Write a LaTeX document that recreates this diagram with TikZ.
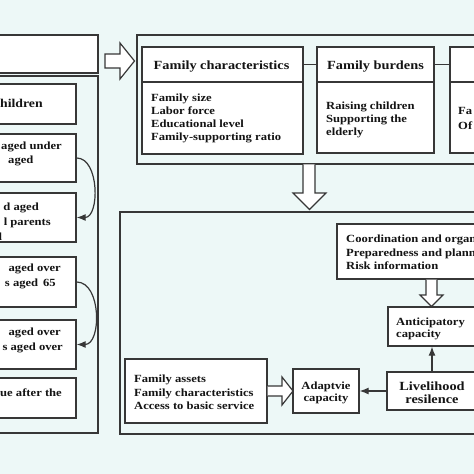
\documentclass[tikz,border=0pt]{standalone}
\usepackage{fontspec}
\setmainfont{Liberation Serif}[FakeStretch=1.15]
\usetikzlibrary{arrows.meta}
\definecolor{bgc}{RGB}{237,248,247}
\definecolor{linec}{RGB}{55,55,55}
\definecolor{txtc}{RGB}{20,20,20}
\begin{document}
\begin{tikzpicture}[x=1bp,y=-1bp,
  box/.style={draw=linec, fill=white, line width=1.3bp, inner sep=0pt},
  frame/.style={draw=linec, line width=1.3bp, inner sep=0pt},
  txt/.style={inner sep=0pt, text=txtc, font=\fontsize{11}{13}\selectfont\bfseries},
  ttl/.style={inner sep=0pt, text=txtc, font=\fontsize{12.5}{14}\selectfont\bfseries},
  blockarrow/.style={draw=linec, fill=white, line width=1.2bp, line join=miter},
  conn/.style={draw=linec, line width=1.2bp},
  tip/.style={-{Latex[length=9bp,width=7bp]}}]
\useasboundingbox (0,0) rectangle (474,474);
\clip (0,0) rectangle (474,474);
\fill[bgc] (0,0) rectangle (474,474);

% left column
\node[box, minimum width=103bp, minimum height=38bp] (lefttop) at (46.5,54) {};
\node[frame, minimum width=103bp, minimum height=357bp] (leftcont) at (46.5,254.5) {};
\node[box, minimum width=81bp, minimum height=40bp] (b1) at (35.5,104) {};
\node[box, minimum width=81bp, minimum height=48bp] (b2) at (35.5,158) {};
\node[box, minimum width=81bp, minimum height=49bp] (b3) at (35.5,217.5) {};
\node[box, minimum width=81bp, minimum height=50bp] (b4) at (35.5,282) {};
\node[box, minimum width=81bp, minimum height=49bp] (b5) at (35.5,344.5) {};
\node[box, minimum width=81bp, minimum height=40bp] (b6) at (35.5,398) {};

\node[ttl, font=\fontsize{12}{14}\selectfont\bfseries, anchor=base west] (t1) at (0,108) {hildren};
\node[txt, anchor=base east] (t2a) at (62,149.5) {aged under};
\node[txt, anchor=base west] (t2b) at (8,163.5) {aged};
\node[txt, anchor=base east] (t3a) at (39,210.5) {d aged};
\node[txt, anchor=base east] (t3b) at (51,225.5) {l parents};
\node[txt, anchor=base west] (t3c) at (-1.5,240.5) {l};
\node[txt, anchor=base east] (t4a) at (61,271.5) {aged over};
\node[txt, anchor=base east] (t4b) at (56,286.5) {s aged\, 65};
\node[txt, anchor=base east] (t5a) at (61,335.5) {aged over};
\node[txt, anchor=base east] (t5b) at (63,350.5) {s aged over};
\node[txt, anchor=base east] (t6) at (62,396.5) {ue after the};

\draw[conn, tip] (b2.east) .. controls +(23,0) and +(23,0) .. (b3.east);
\draw[conn, tip] (b4.east) .. controls +(25,0) and +(25,0) .. (b5.east);

% right block arrow
\draw[blockarrow] (105,54) -- (120,54) -- (120,43) -- (134.5,61) -- (120,79) -- (120,68) -- (105,68) -- cycle;

% top right container
\node[frame, minimum width=353bp, minimum height=129bp] (topcont) at (313.5,99.5) {};
\node[box, minimum width=161bp, minimum height=35bp] (fct) at (222.5,64.5) {};
\node[box, minimum width=161bp, minimum height=72bp] (fcb) at (222.5,118) {};
\node[box, minimum width=117bp, minimum height=35bp] (fbt) at (375.5,64.5) {};
\node[box, minimum width=117bp, minimum height=71bp] (fbb) at (375.5,117.5) {};
\node[box, minimum width=50bp, minimum height=35bp] (tt) at (475,64.5) {};
\node[box, minimum width=50bp, minimum height=71bp] (tb) at (475,117.5) {};
\draw[conn] (fct.east) -- (fbt.west);
\draw[conn] (fbt.east) -- (tt.west);

\node[ttl, anchor=base] (fctx) at (221.5,70) {Family characteristics};
\node[txt, anchor=base west] (fc1) at (151,101.5) {Family size};
\node[txt, anchor=base west] (fc2) at (151,114.5) {Labor force};
\node[txt, anchor=base west] (fc3) at (151,127.5) {Educational level};
\node[txt, anchor=base west] (fc4) at (151,140.5) {Family-supporting ratio};
\node[ttl, anchor=base] (fbtx) at (375.5,70) {Family burdens};
\node[txt, anchor=base west] (fb1) at (326,109.5) {Raising children};
\node[txt, anchor=base west] (fb2) at (326,122.5) {Supporting the};
\node[txt, anchor=base west] (fb3) at (326,135.5) {elderly};
\node[txt, anchor=base west] (tb1) at (458,114.5) {Fa};
\node[txt, anchor=base west] (tb2) at (458,129.5) {Of};

% down block arrow
\draw[blockarrow] (303,164.5) -- (303,193) -- (293,193) -- (309.5,209.5) -- (326,193) -- (315,193) -- (315,164.5);

% bottom container
\node[frame, minimum width=370bp, minimum height=222bp] (botcont) at (305,323) {};
\node[box, minimum width=163bp, minimum height=55bp] (coord) at (418.5,251.5) {};
\node[box, minimum width=88bp, minimum height=39bp] (antic) at (432,326.5) {};
\node[box, minimum width=90bp, minimum height=38bp] (liveli) at (432,391) {};
\node[box, minimum width=66bp, minimum height=44bp] (adapt) at (326,391) {};
\node[box, minimum width=142bp, minimum height=64bp] (assets) at (196,391) {};

\node[txt, anchor=base west] (co1) at (346,242.5) {Coordination and organ};
\node[txt, anchor=base west] (co2) at (346,256.5) {Preparedness and plann};
\node[txt, anchor=base west] (co3) at (346,269.5) {Risk information};
\node[txt, anchor=base west] (an1) at (396,325) {Anticipatory};
\node[txt, anchor=base west] (an2) at (396,337.5) {capacity};
\node[ttl, anchor=base] (lv1) at (432,390.5) {Livelihood};
\node[ttl, anchor=base] (lv2) at (432,403.5) {resilence};
\node[txt, anchor=base] (ad1) at (326,389.5) {Adaptvie};
\node[txt, anchor=base] (ad2) at (326,401.5) {capacity};
\node[txt, anchor=base west] (as1) at (134,382.5) {Family assets};
\node[txt, anchor=base west] (as2) at (134,396.5) {Family characteristics};
\node[txt, anchor=base west] (as3) at (134,409.5) {Access to basic service};

\draw[blockarrow] (426,279.5) -- (426,295) -- (420,295) -- (431.5,306.5) -- (443,295) -- (437,295) -- (437,279.5);
\draw[blockarrow] (267.5,386) -- (282,386) -- (282,377) -- (293,391) -- (282,405) -- (282,396) -- (267.5,396);

\draw[conn, tip] (liveli.north) -- (antic.south);
\draw[conn, tip] (liveli.west) -- (adapt.east);
\end{tikzpicture}
\end{document}
